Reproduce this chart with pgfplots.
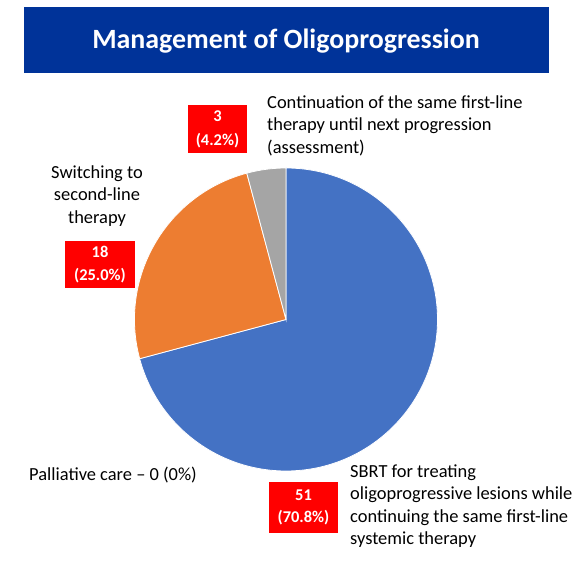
\documentclass[border=0pt]{standalone}
\usepackage{pgfplots}
\usepackage{pgfplotstable}
\pgfplotsset{compat=1.18}
\usepackage{fontspec}
\setmainfont{Carlito}
\definecolor{titleblue}{HTML}{003399}
\definecolor{sblue}{HTML}{4472C4}
\definecolor{sorange}{HTML}{ED7D31}
\definecolor{sgray}{HTML}{A5A5A5}
\definecolor{boxred}{HTML}{FF0000}
\pgfplotstableread{
idx value
0 51
1 18
2 3
3 0
}\piedata
\begin{document}
\begin{tikzpicture}
\pgfplotstablegetelem{0}{value}\of\piedata \edef\vA{\pgfplotsretval}
\pgfplotstablegetelem{1}{value}\of\piedata \edef\vB{\pgfplotsretval}
\pgfplotstablegetelem{2}{value}\of\piedata \edef\vC{\pgfplotsretval}
\pgfplotstablegetelem{3}{value}\of\piedata \edef\vD{\pgfplotsretval}
\pgfmathsetmacro{\tot}{\vA+\vB+\vC+\vD}
\pgfmathsetmacro{\aA}{90-\vA/\tot*360}
\pgfmathsetmacro{\aB}{\aA-\vB/\tot*360}
\pgfmathsetmacro{\aC}{\aB-\vC/\tot*360}
\begin{axis}[
  x=1bp, y=1bp,
  xmin=0, xmax=584, ymin=0, ymax=566,
  hide axis, clip=false,
  anchor=origin, at={(0,0)},
]
\path (axis cs:0,0) rectangle (axis cs:584,566);
% title bar
\fill[titleblue] (axis cs:24,493) rectangle (axis cs:548.5,559);
\node[text=white, font=\fontsize{28}{32}\selectfont\bfseries] at (axis cs:286,525) {Management of Oligoprogression};
% pie
\def\R{151.5bp}
\fill[sblue, draw=white, line width=0.8pt] (axis cs:286,246.5) -- ++(90:\R) arc[start angle=90, end angle=\aA, radius=\R] -- cycle;
\fill[sorange, draw=white, line width=0.8pt] (axis cs:286,246.5) -- ++(\aA:\R) arc[start angle=\aA, end angle=\aB, radius=\R] -- cycle;
\fill[sgray, draw=white, line width=0.8pt] (axis cs:286,246.5) -- ++(\aB:\R) arc[start angle=\aB, end angle=\aC, radius=\R] -- cycle;
% labels
\node[anchor=west, align=left, inner sep=0pt, font=\fontsize{18.5}{22.5}\selectfont] at (axis cs:267,440.5)
  {Continuation of the same first-line\\therapy until next progression\\(assessment)};
\node[fill=boxred, text=white, minimum width=59bp, minimum height=48bp, inner sep=0pt, align=center, font=\fontsize{16.5}{24}\selectfont\bfseries] at (axis cs:217.5,437) {3\\(4.2\%)};
\node[align=center, inner sep=0pt, font=\fontsize{18.5}{22.5}\selectfont] at (axis cs:97,370)
  {Switching to\\second-line\\therapy};
\node[fill=boxred, text=white, minimum width=70bp, minimum height=47bp, inner sep=0pt, align=center, font=\fontsize{16.5}{23}\selectfont\bfseries] at (axis cs:100,301.5) {18\\(25.0\%)};
\node[anchor=east, inner sep=0pt, font=\fontsize{18.5}{22.5}\selectfont] at (axis cs:197,91) {Palliative care -- 0 (0\%)};
\node[fill=boxred, text=white, minimum width=69bp, minimum height=51bp, inner sep=0pt, align=center, font=\fontsize{16.5}{22}\selectfont\bfseries] at (axis cs:303.5,58.5) {51\\(70.8\%)};
\node[anchor=west, align=left, inner sep=0pt, font=\fontsize{18.5}{22.5}\selectfont] at (axis cs:350,60)
  {SBRT for treating\\oligoprogressive lesions while\\continuing the same first-line\\systemic therapy};
\end{axis}
\end{tikzpicture}
\end{document}
